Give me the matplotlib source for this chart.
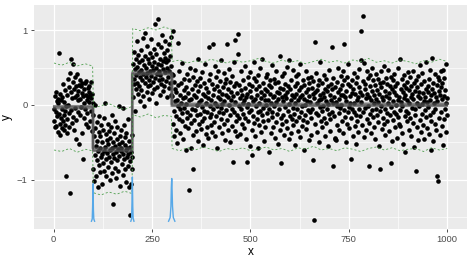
import matplotlib
matplotlib.use("Agg")
import matplotlib.pyplot as plt
import numpy as np

# observed data, one segment per list (x = 1..1000)
seg1_y = [-0.05, -0.21, 0.12, -0.30, 0.18, -0.10, -0.28, 0.05, -0.15, 0.08,
          -0.36, 0.02, 0.70, -0.12, -0.25, 0.15, -0.40, 0.06, -0.18, -0.31,
          0.10, -0.05, -0.22, 0.28, -0.14, -0.33, 0.04, -0.08, 0.20, -0.27,
          -0.02, -0.95, 0.14, -0.19, -0.37, 0.35, 0.00, -0.11, 0.24, -0.29,
          0.43, -1.17, 0.18, -0.07, 0.62, -0.24, 0.09, 0.31, -0.16, 0.55,
          -0.34, 0.22, 0.11, -0.04, 0.37, -0.20, 0.26, -0.45, 0.13, 0.42,
          -0.09, 0.19, 0.06, -0.52, 0.27, 0.34, -0.13, 0.08, 0.25, -0.03,
          0.16, -0.38, 0.30, 0.12, -0.72, 0.21, 0.03, -0.17, 0.29, -0.06,
          0.14, -0.25, 0.32, 0.07, -0.11, 0.23, 0.10, -0.30, 0.18, 0.04,
          0.26, -0.21, 0.13, -0.08, 0.31, 0.09, -0.35, 0.15, 0.02, -0.14]
seg2_y = [-0.85, -0.42, -1.02, -0.31, -0.67, 0.00, -0.55, -0.95, -0.23, -0.74,
          -0.48, -1.10, -0.62, -0.36, -0.80, -0.15, -0.58, -0.90, -0.41, -0.70,
          -0.27, -0.66, -1.05, -0.50, -0.33, -0.78, -0.61, -0.18, -0.88, 0.02,
          -0.56, -0.72, -0.39, -0.95, -0.47, -0.64, -0.25, -0.83, -0.52, -0.69,
          -0.35, -1.00, -0.60, -0.44, -0.76, -0.29, -0.58, -0.91, -0.13, -0.66,
          -0.49, -1.32, -0.71, -0.38, -0.55, -0.84, -0.22, -0.63, -0.97, -0.45,
          -0.74, -0.30, -0.59, -0.88, -0.01, -0.52, -0.68, -0.41, -1.08, -0.57,
          -0.62, -0.34, -0.79, -0.50, -0.04, -0.93, -0.65, -0.27, -0.72, -0.54,
          -0.86, -0.43, -0.60, -1.03, -0.37, -0.70, -0.58, -0.19, -0.82, -0.66,
          -1.10, -0.48, -0.75, -0.56, -1.47, -0.63, -1.06, -0.40, -0.85, -0.69]
seg3_y = [0.10, 0.55, 0.28, 0.71, 0.35, 0.48, -0.08, 0.62, 0.22, 0.40,
          0.85, 0.30, 0.51, 0.15, 0.67, 0.44, 0.26, 0.58, 0.05, 0.38,
          0.73, 0.47, 0.20, 0.60, 0.33, 0.90, 0.41, 0.12, -0.01, 0.54,
          0.29, 0.66, 0.96, 0.37, 0.50, 0.18, 0.79, 0.43, 0.25, 0.61,
          0.34, 0.08, 0.56, 0.70, 0.45, 0.27, 0.88, 0.39, 0.52, 0.16,
          0.64, 0.31, 0.47, 0.75, 0.21, 0.58, 1.08, 0.36, 0.49, 0.02,
          0.68, 0.42, 0.24, 0.81, 0.55, 1.15, 0.33, 0.46, 0.13, 0.62,
          0.40, 0.77, 0.28, 0.53, 0.94, 0.35, 0.59, 0.19, 0.48, 0.70,
          0.26, 0.63, 0.44, 0.86, 0.32, 0.57, 0.11, 0.50, 0.73, 0.38,
          0.60, 0.23, 0.82, 0.45, 0.30, 0.66, 0.14, 0.52, 0.91, 0.41]
seg4_y = [0.12, -0.25, 0.40, 0.99, -0.08, 0.31, -0.42, 0.05, 0.22, -0.15,
          -0.33, 0.18, 0.07, -0.51, 0.83, -0.02, 0.27, -0.19, 0.45, -0.06,
          0.14, -0.37, 0.03, 0.29, -0.22, 0.56, -0.11, 0.09, -0.46, 0.20,
          -0.04, 0.35, -0.28, 0.11, -0.60, 0.24, 0.01, -0.17, 0.42, -0.09,
          0.16, -0.31, 0.06, -1.14, 0.33, -0.13, 0.50, -0.24, 0.08, -0.58,
          0.21, -0.05, 0.38, -0.40, -0.85, 0.13, -0.20, 0.27, -0.07, 0.47,
          -0.35, 0.10, -0.14, 0.32, 0.00, -0.48, 0.19, 0.62, -0.26, 0.04,
          0.25, -0.12, 0.36, -0.32, 0.07, -0.03, 0.44, -0.21, 0.15, -0.53,
          -0.08, 0.30, -0.18, 0.12, 0.55, -0.39, 0.02, 0.23, -0.10, -0.29,
          0.17, -0.44, 0.09, 0.34, 0.78, -0.16, -0.01, 0.41, -0.27, 0.06,
          -0.12, 0.28, -0.36, 0.14, 0.81, -0.06, 0.21, -0.23, 0.52, -0.41,
          0.03, 0.37, -0.15, -0.02, 0.26, -0.57, 0.11, 0.46, -0.09, 0.19,
          -0.30, 0.08, 0.32, -0.19, 0.60, -0.04, -0.38, 0.15, 0.01, 0.24,
          -0.11, 0.43, -0.25, 0.05, 0.29, -0.47, 0.13, -0.07, 0.35, 0.81,
          -0.20, 0.10, -0.33, 0.22, 0.00, 0.48, -0.14, 0.31, -0.50, 0.07,
          0.18, -0.28, 0.39, -0.05, 0.12, -0.76, 0.25, -0.10, 0.57, -0.35,
          0.87, 0.04, -0.22, 0.30, -0.13, 0.16, -0.42, 0.68, 0.95, -0.01,
          -0.17, 0.27, 0.09, -0.39, 0.20, -0.06, 0.45, -0.26, 0.13, 0.02,
          0.34, -0.12, -0.31, 0.06, 0.52, -0.18, 0.23, -0.45, 0.10, -0.03,
          -0.76, 0.15, 0.38, -0.21, 0.01, -0.09, 0.28, -0.55, 0.19, 0.44,
          -0.07, 0.11, -0.34, -0.67, 0.26, -0.15, 0.05, 0.36, -0.24, 0.58,
          0.08, -0.41, 0.21, -0.02, 0.32, -0.19, 0.14, -0.58, 0.40, -0.10,
          0.25, -0.27, 0.03, 0.49, -0.08, 0.17, -0.36, 0.09, 0.62, -0.14,
          -0.22, 0.30, -0.04, 0.13, -0.48, 0.22, 0.06, -0.30, 0.37, 0.00,
          0.19, -0.11, 0.42, -0.20, 0.07, -0.63, 0.27, -0.06, 0.15, 0.33,
          -0.38, 0.02, 0.24, -0.16, 0.54, -0.09, 0.11, -0.29, 0.35, -0.02,
          0.12, -0.44, 0.29, 0.04, -0.23, 0.46, -0.12, 0.18, -0.52, 0.08,
          0.31, -0.05, 0.16, -0.33, 0.23, 0.66, -0.77, -0.18, 0.10, 0.39,
          -0.26, 0.05, 0.21, -0.13, 0.43, -0.40, 0.14, -0.03, 0.28, -0.21,
          0.09, 0.51, -0.31, 0.17, -0.08, 0.26, -0.46, 0.60, 0.01, -0.15,
          0.22, -0.37, 0.07, 0.34, -0.19, 0.13, -0.04, 0.47, -0.27, 0.10,
          -0.12, 0.25, -0.54, 0.03, 0.39, -0.22, 0.15, -0.06, 0.30, -0.35,
          0.06, 0.41, -0.16, 0.20, -0.43, 0.11, 0.55, -0.09, 0.24, -0.28,
          0.14, -0.02, 0.33, -0.20, 0.08, -0.60, 0.27, 0.00, -0.14, 0.45,
          -0.32, 0.18, 0.05, -0.23, 0.36, -0.07, 0.21, -0.47, 0.12, 0.29,
          -0.10, 0.04, 0.38, -0.18, -0.40, 0.23, -0.05, 0.15, -0.73, 0.32,
          -1.53, 0.09, 0.84, -0.26, 0.17, -0.11, 0.43, 0.02, -0.36, 0.20,
          0.27, -0.14, 0.06, -0.49, 0.34, -0.03, 0.13, 0.58, -0.21, 0.08,
          -0.08, 0.30, -0.29, 0.16, -0.01, 0.40, -0.17, 0.11, -0.42, 0.22,
          0.05, -0.24, 0.35, -0.06, 0.19, -0.55, 0.26, 0.01, -0.12, 0.47,
          -0.19, 0.14, -0.35, 0.28, 0.07, 0.78, -0.09, 0.21, -0.81, 0.03,
          0.36, -0.15, 0.10, -0.44, -0.46, 0.24, -0.47, 0.04, 0.31, -0.02,
          -0.27, 0.17, 0.50, -0.11, 0.08, -0.33, 0.22, -0.04, 0.39, 0.13,
          0.00, -0.21, 0.27, -0.38, 0.14, 0.46, 0.81, -0.07, 0.33, -0.16,
          0.10, -0.50, 0.19, 0.05, -0.25, 0.38, -0.10, 0.55, 0.28, -0.03,
          -0.31, 0.12, 0.02, 0.26, -0.18, -0.72, 0.34, -0.06, 0.16, -0.41,
          0.21, -0.09, 0.43, 0.03, -0.28, 0.15, -0.52, 0.30, -0.13, 0.07,
          -0.22, 0.37, 0.11, -0.36, 0.24, 0.48, -0.05, 0.18, -0.15, 0.60,
          0.04, 0.99, -0.27, 0.13, 1.19, -0.10, 0.32, 0.56, -0.43, 0.22,
          -0.04, 0.28, -0.34, 0.09, 0.45, -0.19, 0.15, -0.01, 0.36, -0.24,
          0.11, -0.81, 0.25, -0.12, 0.40, 0.06, -0.38, 0.19, -0.07, 0.50,
          -0.16, 0.33, 0.02, -0.29, 0.14, -0.46, 0.27, 0.08, -0.05, 0.42,
          0.20, -0.13, 0.35, -0.23, 0.04, 0.15, -0.55, 0.29, -0.08, -0.85,
          0.24, -0.02, 0.45, -0.32, 0.10, 0.31, -0.17, 0.07, 0.52, -0.26,
          -0.06, 0.19, -0.40, 0.36, 0.12, -0.11, 0.28, -0.21, 0.03, 0.47,
          0.16, -0.35, 0.09, 0.25, -0.14, 0.38, -0.03, -0.78, 0.21, -0.48,
          0.33, 0.05, -0.20, 0.41, -0.09, 0.17, -0.30, 0.26, 0.00, -0.12,
          0.14, -0.44, 0.30, 0.07, -0.16, 0.49, -0.25, 0.11, 0.62, -0.07,
          -0.28, 0.22, 0.04, -0.37, 0.35, -0.01, 0.18, -0.52, 0.27, 0.09,
          0.40, -0.15, -0.63, 0.13, 0.23, -0.08, 0.31, -0.22, 0.06, 0.44,
          -0.11, 0.20, -0.33, 0.02, 0.37, -0.18, 0.10, -0.42, 0.25, -0.04,
          0.15, 0.46, -0.24, 0.08, -0.56, 0.29, -0.06, 0.19, -0.14, 0.34,
          -0.88, 0.03, 0.24, -0.30, 0.12, -0.47, 0.39, -0.02, 0.17, 0.54,
          -0.20, 0.09, -0.36, 0.28, 0.01, -0.12, 0.43, -0.27, 0.16, 0.05,
          0.32, -0.45, 0.11, -0.07, 0.22, 0.58, -0.16, 0.04, -0.31, 0.26,
          -0.03, 0.18, -0.39, 0.35, -0.13, 0.07, 0.47, -0.22, 0.13, -0.60,
          0.21, 0.63, -0.09, 0.30, -0.48, 0.02, 0.16, -0.25, 0.41, -0.05,
          0.10, -0.34, 0.27, -0.95, 0.05, 0.38, -1.02, 0.19, -0.17, 0.33,
          -0.40, 0.14, 0.24, -0.10, 0.45, -0.28, 0.08, 0.29, -0.53, 0.47,
          0.12, -0.19, 0.36, -0.06, 0.20, -0.36, 0.03, 0.55, -0.14, 0.09]

# posterior draws of the fit: change points and segment levels
draw_cp1 = [100, 99, 101, 100, 102, 100, 98, 101]
draw_cp2 = [200, 201, 200, 199, 200, 201, 199, 200]
draw_cp3 = [300, 299, 301, 302, 300, 298, 301, 300]
draw_lvl1 = [-0.02, -0.04, -0.03, -0.01, -0.05, -0.03, -0.02, -0.04]
draw_lvl2 = [-0.58, -0.61, -0.60, -0.62, -0.59, -0.60, -0.57, -0.61]
draw_lvl3 = [0.43, 0.41, 0.44, 0.40, 0.42, 0.45, 0.43, 0.41]
draw_lvl4 = [0.00, 0.01, -0.01, 0.02, 0.00, -0.01, 0.01, -0.02]

# prediction interval (dashed green)
q_x = [1, 20, 40, 60, 80, 99,
       101, 120, 140, 160, 180, 199,
       201, 220, 240, 260, 280, 299,
       301, 320, 340, 360, 380, 400, 420, 440, 460, 480, 500, 520, 540, 560,
       580, 600, 620, 640, 660, 680, 700, 720, 740, 760, 780, 800, 820, 840,
       860, 880, 900, 920, 940, 960, 980, 1000]
q_upper = [0.56, 0.53, 0.57, 0.52, 0.55, 0.52,
           -0.04, -0.01, 0.02, -0.03, -0.06, -0.02,
           1.02, 0.99, 1.03, 1.00, 1.04, 1.01,
           0.58, 0.60, 0.56, 0.59, 0.57, 0.61, 0.58, 0.56, 0.60, 0.57, 0.59,
           0.62, 0.58, 0.56, 0.60, 0.57, 0.59, 0.55, 0.58, 0.61, 0.57, 0.59,
           0.56, 0.60, 0.58, 0.62, 0.57, 0.59, 0.56, 0.60, 0.58, 0.55, 0.59,
           0.57, 0.61, 0.58]
q_lower = [-0.60, -0.62, -0.58, -0.63, -0.59, -0.61,
           -1.17, -1.20, -1.16, -1.19, -1.15, -1.18,
           -0.13, -0.16, -0.12, -0.17, -0.14, -0.15,
           -0.58, -0.61, -0.57, -0.60, -0.56, -0.59, -0.62, -0.58, -0.60,
           -0.57, -0.61, -0.59, -0.56, -0.60, -0.58, -0.62, -0.57, -0.59,
           -0.55, -0.60, -0.58, -0.61, -0.57, -0.59, -0.62, -0.58, -0.56,
           -0.60, -0.57, -0.61, -0.59, -0.58, -0.62, -0.57, -0.60, -0.58]

# change point posterior densities (drawn at the bottom)
dens_base = -1.55
cp1_x = [96, 98, 99, 100, 101, 102, 104]
cp1_h = [0.0, 0.03, 0.20, 0.50, 0.15, 0.03, 0.0]
cp2_x = [196, 198, 199, 200, 201, 202, 204]
cp2_h = [0.0, 0.03, 0.25, 0.59, 0.20, 0.04, 0.0]
cp3_x = [292, 296, 298, 299, 300, 301, 302, 304, 308]
cp3_h = [0.0, 0.05, 0.20, 0.45, 0.57, 0.40, 0.20, 0.05, 0.0]

y = np.array(seg1_y + seg2_y + seg3_y + seg4_y)
x = np.arange(1, len(y) + 1)

plt.rcParams['font.family'] = ['Liberation Sans', 'DejaVu Sans']
fig = plt.figure(figsize=(4.74, 2.65), dpi=100)
ax = fig.add_axes([0.0717, 0.136, 0.9133, 0.845])
ax.set_facecolor('#EBEBEB')
for s in ax.spines.values():
    s.set_visible(False)

ax.set_xlim(-50, 1050)
ax.set_ylim(-1.653, 1.333)
ax.set_xticks([0, 250, 500, 750, 1000])
ax.set_yticks([-1, 0, 1])
ax.set_xticks([125, 375, 625, 875], minor=True)
ax.set_yticks([-1.5, -0.5, 0.5], minor=True)
ax.grid(which='major', color='white', linewidth=0.9)
ax.grid(which='minor', color='white', linewidth=0.45)
ax.set_axisbelow(True)
ax.tick_params(which='major', length=2.5, width=0.6, color='#333333',
               labelsize=6.8, labelcolor='#4D4D4D', pad=2)
ax.tick_params(which='minor', length=0)

ax.scatter(x, y, s=11, color='black', linewidths=0, zorder=2)

# fitted lines (posterior draws)
for i in range(len(draw_cp1)):
    fx = [1, draw_cp1[i], draw_cp1[i], draw_cp2[i], draw_cp2[i],
          draw_cp3[i], draw_cp3[i], 1000]
    fy = [draw_lvl1[i], draw_lvl1[i], draw_lvl2[i], draw_lvl2[i],
          draw_lvl3[i], draw_lvl3[i], draw_lvl4[i], draw_lvl4[i]]
    ax.plot(fx, fy, color='#505050', linewidth=1.5, alpha=0.3, zorder=3)

ax.plot(q_x, q_upper, color='#4E9F4E', linewidth=0.6, dashes=(2.5, 2.5),
        zorder=4)
ax.plot(q_x, q_lower, color='#4E9F4E', linewidth=0.6, dashes=(2.5, 2.5),
        zorder=4)

for cx, ch in [(cp1_x, cp1_h), (cp2_x, cp2_h), (cp3_x, cp3_h)]:
    ax.plot(cx, dens_base + np.array(ch), color='#56A8E8', linewidth=1.0,
            zorder=4)

ax.set_xlabel('x', fontsize=8.5, labelpad=1)
ax.set_ylabel('y', fontsize=8.5, labelpad=3)

fig.savefig('out.png', dpi=100)
